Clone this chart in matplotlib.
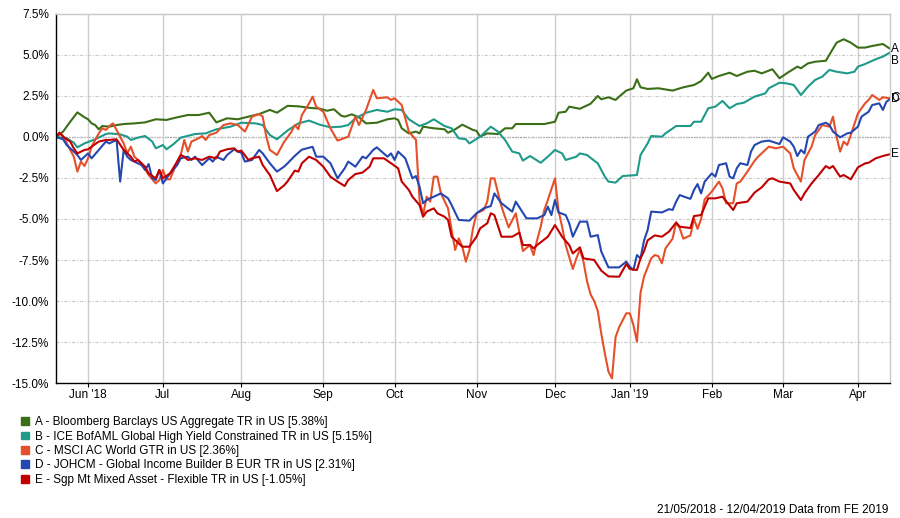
import matplotlib.pyplot as plt
import matplotlib.patches as mpatches
import pandas as pd

plt.rcParams['font.family'] = ['Liberation Sans', 'DejaVu Sans']

# trading days shown on the x axis
trading_days = pd.bdate_range('2018-05-21', '2019-04-12')

letters = ['A', 'B', 'C', 'D', 'E']
names = ['Bloomberg Barclays US Aggregate TR in US',
         'ICE BofAML Global High Yield Constrained TR in US',
         'MSCI AC World GTR in US',
         'JOHCM - Global Income Builder B EUR TR in US',
         'Sgp Mt Mixed Asset - Flexible TR in US']
final = [5.38, 5.15, 2.36, 2.31, -1.05]
colors = ['#3b6e17', '#1f9a8a', '#e5502a', '#2547b0', '#c00000']

# cumulative return (%), keyed by trading-day number
a_day = [0, 2, 4, 6, 8, 9, 10, 11, 12, 13, 15, 17, 19, 22, 25, 28, 31, 34, 37, 40,
         43, 45, 48, 51, 54, 57, 60, 62, 65, 68, 71, 74, 76, 78, 80, 81, 83, 85, 87, 90,
         93, 95, 96, 97, 99, 101, 102, 103, 106, 109, 110, 112, 114, 117, 118, 119, 121, 124, 126, 128,
         129, 137, 140, 141, 143, 144, 147, 150, 152, 153, 155, 157, 158, 160, 162, 163, 164, 166, 169, 173,
         176, 179, 181, 183, 184, 186, 189, 191, 194, 196, 198, 201, 203, 205, 208, 209, 211, 213, 216, 219,
         221, 223, 225, 227, 229, 232, 234]
a_ret = [0, 0.33, 0.93, 1.5, 1.2, 1.08, 0.83, 0.73, 0.47, 0.67, 0.63, 0.73, 0.79, 0.83, 0.89, 1.08, 1.04, 1.2, 1.34, 1.34,
         1.48, 0.89, 1.14, 1.08, 1.24, 1.4, 1.65, 1.48, 1.9, 1.87, 1.78, 1.73, 1.6, 1.69, 1.3, 1.24, 1.38, 1.2, 0.83, 0.87,
         1.08, 1.14, 1.04, 0.53, 0.22, 0.33, 0.22, 0.63, 0.53, 0.47, 0.26, 0.47, 0.75, 0.43, 0.37, 0.02, 0.22, 0.18, 0.53, 0.53,
         0.79, 0.79, 0.93, 1.48, 1.54, 1.85, 1.72, 2.03, 2.5, 2.3, 2.42, 2.26, 2.46, 2.83, 2.97, 3.52, 3.03, 2.93, 2.97, 2.83,
         3.03, 3.17, 3.41, 3.92, 3.54, 3.72, 3.92, 3.72, 3.98, 4.04, 3.88, 4.13, 3.58, 3.88, 4.29, 4.19, 4.49, 4.59, 4.65, 5.75,
         5.96, 5.75, 5.45, 5.45, 5.55, 5.67, 5.38]

b_day = [0, 3, 5, 6, 8, 11, 14, 15, 18, 20, 21, 23, 25, 27, 28, 30, 31, 33, 35, 39,
         42, 45, 49, 52, 56, 58, 60, 62, 65, 68, 71, 74, 77, 80, 82, 84, 87, 90, 93, 95,
         97, 99, 102, 104, 106, 109, 111, 113, 115, 116, 119, 120, 122, 124, 126, 128, 130, 131, 133, 136,
         138, 140, 142, 143, 146, 147, 149, 151, 152, 154, 155, 157, 159, 163, 164, 166, 167, 170, 171, 174,
         178, 179, 181, 183, 185, 187, 189, 191, 193, 196, 199, 200, 203, 205, 207, 209, 211, 213, 215, 217,
         219, 222, 224, 225, 227, 230, 232, 234]
b_ret = [0, -0.08, -0.35, -0.63, -0.39, -0.14, 0.18, 0.22, 0.16, 0.02, -0.18, -0.04, 0.06, -0.28, -0.69, -0.49, -0.75, -0.43, -0.04, 0.18,
         0.22, 0.47, 0.63, 0.87, 0.83, 0.73, 0.12, -0.14, 0.4, 0.83, 1.0, 0.75, 0.59, 0.63, 0.73, 1.14, 1.48, 1.65, 1.54, 1.69,
         1.65, 1.08, 0.67, 0.83, 1.08, 0.67, 0.53, -0.08, -0.14, -0.39, 0.02, 0.22, 0.63, 0.33, -0.18, -0.89, -1.0, -1.44, -1.16, -1.57,
         -1.2, -0.79, -1.0, -1.4, -1.2, -1.0, -1.1, -1.44, -1.6, -2.42, -2.72, -2.78, -2.38, -2.32, -1.1, -0.39, 0.06, 0.02, 0.22, 0.67,
         0.67, 0.93, 0.93, 1.75, 1.85, 2.2, 1.75, 2.01, 2.09, 2.46, 2.66, 2.97, 3.31, 3.27, 3.17, 2.56, 3.07, 3.48, 3.68, 4.09,
         3.98, 3.88, 3.98, 4.29, 4.45, 4.74, 4.9, 5.15]

c_day = [0, 1, 2, 4, 5, 6, 7, 8, 9, 10, 12, 13, 14, 15, 16, 17, 19, 20, 21, 22,
         24, 26, 28, 29, 30, 31, 32, 34, 35, 36, 37, 38, 40, 41, 42, 43, 45, 47, 49, 51,
         53, 55, 57, 58, 59, 60, 62, 64, 66, 67, 68, 69, 71, 72, 73, 75, 77, 79, 82, 83,
         84, 85, 87, 89, 90, 93, 94, 95, 97, 99, 101, 102, 103, 104, 105, 106, 107, 108, 110, 111,
         112, 113, 114, 115, 116, 117, 118, 120, 121, 122, 123, 125, 127, 129, 131, 133, 134, 135, 136, 137,
         138, 140, 141, 142, 143, 145, 146, 147, 148, 149, 150, 151, 152, 153, 154, 155, 156, 157, 158, 160,
         161, 162, 163, 164, 165, 167, 168, 169, 170, 171, 173, 174, 175, 176, 178, 179, 180, 181, 182, 184,
         186, 187, 188, 190, 191, 192, 194, 196, 197, 200, 202, 204, 206, 207, 209, 210, 212, 213, 215, 217,
         218, 219, 220, 221, 222, 223, 225, 227, 228, 229, 231, 232, 234]
c_ret = [0, 0.26, 0.06, -0.79, -1.2, -2.11, -1.5, -1.77, -1.3, -0.59, 0.22, 0.53, 0.43, 0.67, 0.83, 0.43, -0.39, -1.0, -0.59, -1.2,
         -1.6, -2.32, -2.83, -2.62, -2.01, -2.58, -2.58, -1.5, -1.1, -0.18, -0.89, -0.28, -0.08, 0.06, -0.18, 0.12, 0.26, 0.73, 0.83, 0.73,
         0.33, 1.24, 1.4, 1.24, 0.02, -0.79, -1.1, -0.3, 0.3, 0.73, 0.47, 1.34, 2.05, 2.46, 1.85, 1.54, 0.53, -0.22, 0.02, 0.63,
         1.24, 0.73, 1.65, 2.87, 2.36, 2.42, 2.26, 2.36, 1.95, 0.33, -0.18, -3.84, -4.76, -3.64, -3.94, -2.42, -2.42, -3.44, -4.35, -5.67,
         -6.89, -6.18, -6.69, -7.6, -6.89, -5.57, -4.65, -4.45, -3.94, -2.52, -2.52, -4.25, -5.51, -4.65, -6.95, -6.59, -7.2, -6.28, -5.47, -4.45,
         -3.84, -2.52, -4.5, -5.47, -6.59, -8.05, -7.4, -6.85, -7.6, -8.8, -9.6, -10.0, -10.6, -12.0, -13.2, -14.3, -14.72, -12.2, -11.6, -10.75,
         -10.75, -11.46, -12.48, -9.5, -8.5, -7.4, -7.2, -7.26, -7.7, -6.79, -6.2, -5.2, -5.57, -6.2, -6.0, -5.0, -5.6, -5.0, -3.8, -3.33,
         -2.72, -3.13, -4.04, -4.04, -2.83, -2.72, -2.11, -1.45, -1.2, -0.59, -0.69, -0.59, -1.0, -1.91, -2.72, -1.4, -0.59, 0.12, 0.73, 0.63,
         1.24, 0.02, -0.89, -0.28, -0.49, 0.12, 1.44, 2.05, 2.26, 2.56, 2.26, 2.42, 2.36]

d_day = [0, 2, 3, 5, 6, 7, 9, 10, 12, 14, 15, 16, 17, 18, 19, 20, 21, 22, 24, 25,
         26, 27, 28, 29, 30, 32, 34, 35, 37, 38, 39, 41, 43, 44, 45, 47, 48, 50, 51, 52,
         53, 55, 57, 58, 60, 62, 64, 65, 67, 69, 72, 73, 75, 77, 79, 81, 82, 84, 86, 87,
         89, 90, 93, 94, 95, 96, 98, 100, 101, 102, 103, 104, 106, 108, 110, 111, 113, 116, 118, 120,
         122, 123, 125, 128, 129, 132, 135, 137, 138, 139, 140, 141, 143, 144, 145, 147, 149, 150, 152, 153,
         155, 158, 160, 161, 162, 163, 164, 165, 166, 167, 170, 172, 173, 174, 175, 177, 178, 179, 180, 181,
         182, 184, 185, 186, 188, 189, 190, 191, 192, 194, 195, 196, 198, 200, 203, 204, 206, 207, 208, 209,
         210, 211, 213, 214, 216, 217, 218, 220, 222, 223, 225, 226, 228, 229, 231, 232, 233, 234]
d_ret = [0, -0.14, -0.49, -0.89, -1.1, -1.4, -1.0, -1.3, -0.79, -0.28, -0.39, -0.28, -0.18, -2.72, -0.79, -1.2, -1.4, -1.5, -1.71, -2.01,
         -1.65, -2.52, -2.62, -2.01, -2.83, -2.22, -1.71, -1.3, -1.2, -1.4, -1.2, -1.71, -1.3, -1.5, -1.2, -1.4, -1.1, -0.75, -0.89, -0.96,
         -1.5, -1.4, -0.79, -1.0, -1.6, -2.11, -1.81, -1.6, -1.15, -0.77, -0.6, -1.2, -1.2, -1.6, -2.52, -1.91, -1.5, -1.81, -1.2, -1.3,
         -0.79, -0.63, -1.2, -1.0, -1.4, -0.89, -1.3, -2.52, -2.38, -3.03, -4.04, -3.84, -3.64, -3.44, -3.74, -4.15, -5.06, -5.1, -4.65, -4.35,
         -4.21, -3.44, -4.04, -4.55, -3.94, -4.96, -4.96, -4.76, -4.25, -4.76, -3.84, -4.6, -4.76, -5.26, -6.08, -5.16, -5.16, -6.08, -5.98, -6.99,
         -7.95, -7.95, -7.6, -7.91, -8.11, -7.2, -7.4, -6.3, -5.67, -4.55, -4.6, -4.4, -4.45, -3.94, -3.54, -3.7, -3.77, -3.23, -2.87, -3.44,
         -2.72, -2.22, -2.42, -1.71, -1.6, -2.42, -2.52, -1.91, -1.6, -1.71, -0.89, -0.49, -0.28, -0.22, -0.43, -0.02, -0.28, -0.59, -1.16, -0.79,
         -1.0, 0.02, 0.33, 0.73, 0.87, 0.73, 0.33, -0.02, 0.22, 0.26, 0.63, 1.24, 1.54, 1.95, 2.05, 1.65, 2.15, 2.31]

e_day = [0, 1, 2, 4, 5, 6, 8, 9, 10, 12, 14, 15, 17, 19, 21, 22, 23, 25, 26, 28,
         29, 30, 32, 34, 35, 36, 37, 39, 41, 43, 45, 46, 48, 50, 51, 52, 54, 55, 57, 58,
         60, 62, 64, 65, 67, 68, 69, 71, 73, 75, 77, 79, 81, 82, 84, 86, 88, 89, 92, 94,
         96, 97, 99, 100, 102, 103, 104, 106, 107, 109, 110, 111, 114, 116, 118, 119, 121, 122, 123, 125,
         128, 130, 131, 133, 134, 135, 138, 140, 142, 144, 145, 147, 148, 151, 153, 155, 158, 160, 161, 163,
         164, 165, 166, 168, 170, 172, 174, 175, 178, 179, 181, 183, 185, 187, 190, 191, 194, 196, 198, 200,
         201, 203, 206, 207, 209, 210, 212, 214, 216, 217, 218, 220, 221, 223, 225, 227, 228, 230, 232, 234]
e_ret = [0, 0.26, 0.02, -0.28, -0.69, -1.0, -0.79, -0.75, -0.59, -0.28, -0.18, -0.18, -0.14, -0.79, -1.2, -1.5, -1.4, -1.81, -2.22, -2.52,
         -2.01, -2.52, -2.22, -1.5, -1.1, -1.2, -1.4, -1.3, -1.4, -1.2, -1.3, -0.89, -0.75, -0.69, -0.89, -0.83, -1.4, -1.3, -1.2, -1.71,
         -2.32, -3.3, -2.95, -2.7, -2.05, -2.11, -1.6, -1.2, -1.4, -1.81, -2.42, -2.72, -2.99, -2.62, -2.26, -2.17, -1.81, -1.3, -1.3, -1.6,
         -1.91, -2.72, -3.23, -3.64, -4.15, -4.86, -4.55, -4.35, -4.65, -4.86, -5.06, -6.08, -6.69, -6.69, -6.08, -5.57, -5.26, -4.65, -4.76, -6.08,
         -6.08, -5.83, -6.59, -6.59, -6.79, -6.59, -6.08, -5.37, -6.08, -6.59, -7.1, -6.73, -7.4, -7.5, -8.15, -8.5, -8.52, -7.75, -8.05, -8.11,
         -7.4, -6.95, -6.3, -6.0, -6.08, -5.77, -5.22, -5.47, -5.55, -4.82, -4.76, -3.74, -3.74, -3.64, -4.45, -4.04, -3.94, -3.39, -3.07, -2.58,
         -2.52, -2.72, -2.83, -3.23, -3.84, -3.44, -2.83, -2.32, -1.77, -1.91, -1.77, -2.42, -2.32, -2.58, -1.85, -1.61, -1.57, -1.3, -1.16, -1.05]

series_days = [a_day, b_day, c_day, d_day, e_day]
series_ret = [a_ret, b_ret, c_ret, d_ret, e_ret]

fig = plt.figure(figsize=(9, 5.18), dpi=100)
ax = fig.add_axes([0.0622, 0.2606, 0.9267, 0.7124])

for days, ret, col in zip(series_days, series_ret, colors):
    ax.plot(days, ret, color=col, lw=1.5)

# end-of-line letters (B nudged down as in the original)
label_shift = {'B': -6}
for letter, days, ret in zip(letters, series_days, series_ret):
    ax.annotate(letter, xy=(days[-1], ret[-1]), xytext=(1, label_shift.get(letter, 0)),
                textcoords='offset points', ha='left', va='center', fontsize=8.5,
                annotation_clip=False)

ax.axhline(0, color='black', lw=0.8, ls=(0, (3, 1.5, 1, 1.5)), zorder=0.5)

# month ticks on the first trading day of each month
month_idx = [i for i in range(1, len(trading_days))
             if trading_days[i].month != trading_days[i - 1].month]
month_lbl = []
for k, i in enumerate(month_idx):
    d = trading_days[i]
    month_lbl.append(d.strftime("%b '%y") if (k == 0 or d.month == 1) else d.strftime('%b'))
ax.set_xticks(month_idx)
ax.set_xticklabels(month_lbl)
ax.set_xlim(0, len(trading_days) - 1)

yt = [7.5, 5.0, 2.5, 0.0, -2.5, -5.0, -7.5, -10.0, -12.5, -15.0]
ax.set_yticks(yt)
ax.set_yticklabels([f'{v:.1f}%' for v in yt])
ax.set_ylim(-15, 7.5)

ax.grid(axis='x', color='#cccccc', lw=1, ls='-', zorder=0)
ax.grid(axis='y', color='#c8c8c8', lw=0.8, ls=(0, (3, 1.5, 1, 1.5)), zorder=0)
ax.set_axisbelow(True)

ax.tick_params(axis='x', length=3, pad=1, labelsize=8.5, direction='out')
ax.tick_params(axis='y', length=0, pad=5, labelsize=8.5)
for s in ['left', 'bottom']:
    ax.spines[s].set_color('black')
    ax.spines[s].set_linewidth(1)
for s in ['top', 'right']:
    ax.spines[s].set_color('#c8c8c8')
    ax.spines[s].set_linewidth(1)

handles = [mpatches.Patch(color=c) for c in colors]
labels = [f'{l} - {n} [{v:.2f}%]' for l, n, v in zip(letters, names, final)]
fig.legend(handles, labels, loc='upper left', bbox_to_anchor=(0.0236, 0.1965),
           frameon=False, fontsize=8.5, handlelength=0.65, handleheight=0.65,
           handletextpad=0.5, labelspacing=0.205, borderpad=0, borderaxespad=0)

fig.text(0.987, 0.016, '21/05/2018 - 12/04/2019 Data from FE 2019',
         ha='right', va='center', fontsize=8.5)

fig.savefig('out.png', dpi=100)
